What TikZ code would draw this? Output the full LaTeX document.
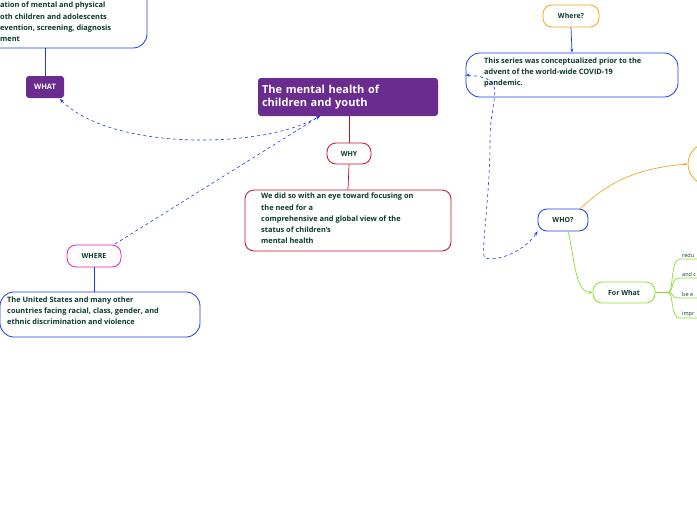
\documentclass[tikz,border=0pt]{standalone}
\usepackage{fontspec}
\setmainfont{Open Sans}
\usetikzlibrary{arrows.meta}
\definecolor{txt}{HTML}{0B3B2E}
\definecolor{purp}{HTML}{6A2C8E}
\definecolor{blu}{HTML}{1A3CF0}
\definecolor{rd}{HTML}{C8102E}
\definecolor{org}{HTML}{F5A623}
\definecolor{grn}{HTML}{8BE02C}
\definecolor{mag}{HTML}{E81CC8}
\tikzset{x=1pt,y=-1pt,
 box/.style={draw,line width=0.8pt,rounded corners=9pt},
 lbl/.style={font=\bfseries\fontsize{7.4}{11.2}\selectfont,text=txt,align=left,anchor=north west,inner sep=0},
 small/.style={font=\fontsize{5.5}{6}\selectfont,text=txt,anchor=south west,inner sep=1pt},
 conn/.style={line width=0.7pt,-{Stealth[length=4pt]}},
 dconn/.style={line width=0.6pt,dashed,{Stealth[length=4pt]}-{Stealth[length=4pt]}}}
\begin{document}
\begin{tikzpicture}
\useasboundingbox (0,0) rectangle (697,520);
\fill[white] (0,0) rectangle (697,520);
% top-left box
\draw[box,blu,rounded corners=14pt] (-150,-20) rectangle (147,48);
\node[lbl] (tl) at (0,2) {ation of mental and physical\\oth children and adolescents\\evention, screening, diagnosis\\ment};
\node[fill=purp,rounded corners=3pt,minimum width=38pt,minimum height=22pt,text=white,font=\bfseries\fontsize{7.5}{8}\selectfont] (what) at (45,87) {WHAT};
\draw[blu,line width=0.8pt] (what.north) -- (45,48);
% central
\node[fill=purp,rounded corners=3pt,minimum width=180pt,minimum height=38pt,text=white,font=\bfseries\fontsize{11}{13.5}\selectfont,align=left,text width=172pt] (c) at (348,97) {The mental health of\\children and youth};
% WHY
\node[box,rd,minimum width=44pt,minimum height=21pt,font=\bfseries\fontsize{7}{8}\selectfont,text=txt] (why) at (349,153.5) {WHY};
\draw[rd,line width=0.7pt] (c.south -| why) -- (why.north);
\node[box,rd,minimum width=206pt,minimum height=61pt] (whyt) at (348,220.5) {};
\node[lbl] at (261,193) {We did so with an eye toward focusing on\\the need for a\\comprehensive and global view of the\\status of children's\\mental health};
\draw[rd,line width=0.7pt] (why.south) -- (whyt.north);
% Where?
\node[box,org,minimum width=56pt,minimum height=22pt,font=\bfseries\fontsize{7}{8}\selectfont,text=txt] (wq) at (571,16) {Where?};
\node[box,blu,rounded corners=14pt,minimum width=212pt,minimum height=44pt] (ser) at (572,75) {};
\node[lbl] at (484,57.5) {This series was conceptualized prior to the\\advent of the world-wide COVID-19\\pandemic.};
\draw[conn,blu] (wq.south) -- (ser.north);
% WHO?
\node[box,blu,minimum width=50pt,minimum height=22pt,font=\bfseries\fontsize{7}{8}\selectfont,text=txt] (who) at (563,220) {WHO?};
\draw[dconn,blu] (ser.west) .. controls (510,78) and (490,95) .. (490,140) .. controls (490,200) and (480,255) .. (485,258) .. controls (500,262) and (525,250) .. (who.south west);
\node[draw=org,line width=0.8pt,circle,minimum size=42pt] (circ) at (709,164) {};
\draw[conn,org] (580,209) .. controls (610,180) and (640,168) .. (circ.west);
% For What
\node[box,grn,minimum width=62pt,minimum height=21pt,font=\bfseries\fontsize{7}{8}\selectfont,text=txt] (fw) at (624,292.5) {For What};
\draw[conn,grn] (568,231) .. controls (575,260) and (575,292) .. (fw.west);
\coordinate (b) at (668,292.5);
\foreach \yy/\t in {259/redu,278/and c,298/be e,318/impr}{
 \draw[grn,line width=0.7pt] (fw.east) -- (b) .. controls (674,292.5) and (670,\yy) .. (680,\yy) -- (697,\yy);
 \node[small] at (681,\yy) {\t};
}
% WHERE
\node[box,mag,minimum width=54pt,minimum height=22pt,font=\bfseries\fontsize{7}{8}\selectfont,text=txt] (wh) at (94,256) {WHERE};
\node[box,blu,rounded corners=14pt,minimum width=200pt,minimum height=45pt] (wht) at (100,314.5) {};
\node[lbl] at (7,296.5) {The United States and many other\\countries facing racial, class, gender, and\\ethnic discrimination and violence};
\draw[blu,line width=0.8pt] (wh.south) -- (wht.north -| wh);
% dashed links to central
\draw[dconn,blu] (60,99) .. controls (110,150) and (260,150) .. (320,116);
\draw[line width=0.6pt,dashed,blu,-{Stealth[length=4pt]}] (115,244) -- (320,116);
\end{tikzpicture}
\end{document}
